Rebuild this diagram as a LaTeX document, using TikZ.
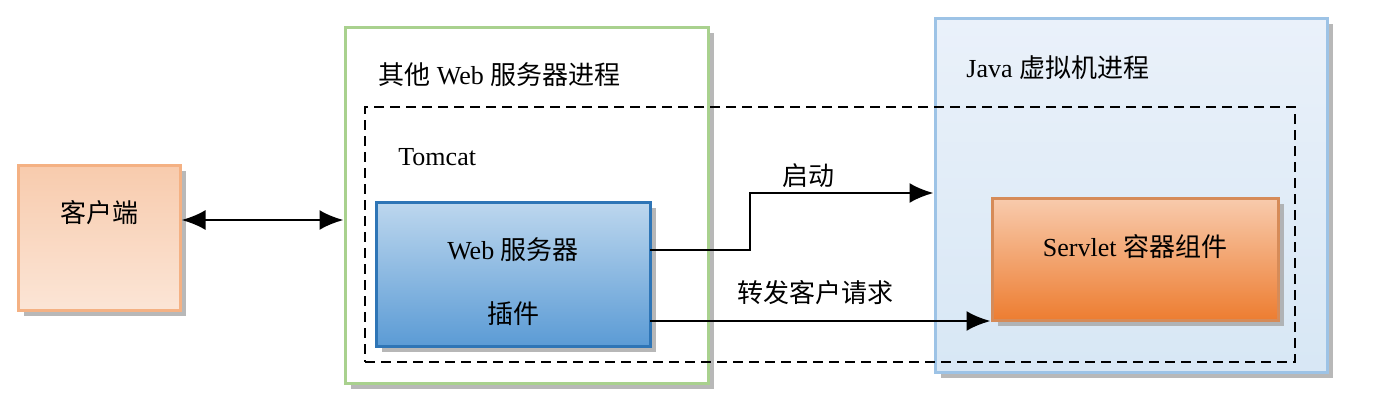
\documentclass[tikz,border=0pt]{standalone}
\usepackage{fontspec}
\setmainfont{Liberation Serif}
\newfontfamily\cjk{Noto Sans CJK SC}
\usetikzlibrary{arrows.meta,shadows}
\definecolor{peachA}{HTML}{FBE5D6}
\definecolor{peachB}{HTML}{F8CBAD}
\definecolor{peachD}{HTML}{F4B183}
\definecolor{grnD}{HTML}{A9D18E}
\definecolor{bluD}{HTML}{9DC3E6}
\definecolor{bluL}{HTML}{EAF1FA}
\definecolor{bluA}{HTML}{BDD7EE}
\definecolor{bluB}{HTML}{5B9BD5}
\definecolor{bluE}{HTML}{2E75B6}
\definecolor{orA}{HTML}{F8CBAD}
\definecolor{orB}{HTML}{ED7D31}
\definecolor{orE}{HTML}{C55A11}
\tikzset{
  txt/.style={font=\fontsize{13}{15}\selectfont, inner sep=0pt},
  shad/.style={drop shadow={shadow xshift=3pt,shadow yshift=-3pt,fill=black!35,opacity=.8}},
  conn/.style={line width=1.3pt,-{Latex[length=12pt,width=10pt]}},
}
\begin{document}
\begin{tikzpicture}[x=0.5pt,y=-0.5pt]
\useasboundingbox (0,0) rectangle (1379,408);
% containers
\node[shad,draw=grnD,line width=1.5pt,fill=white,minimum width=181.5pt,minimum height=178pt,inner sep=0pt] (other) at (526.5,205) {};
\node[shad,draw=bluD,line width=1.5pt,top color=bluL,bottom color=bluA!60,minimum width=196pt,minimum height=177pt,inner sep=0pt] (jvm) at (1131,195) {};
\node[draw,dash pattern=on 5pt off 3pt,line width=1.4pt,minimum width=465pt,minimum height=127.5pt,inner sep=0pt] (tomcat) at (830,234.5) {};
\node[shad,draw=peachD,line width=1.5pt,top color=peachB,bottom color=peachA,minimum width=81pt,minimum height=72.5pt,inner sep=0pt] (client) at (99,237.5) {};
\node[txt] at (99,213) {\cjk 客户端};
\node[txt,anchor=west] (l1) at (378,75) {{\cjk 其他} Web {\cjk 服务器进程}};
\node[txt,anchor=west] (l2) at (966,68) {Java {\cjk 虚拟机进程}};
\node[txt,anchor=west] (l3) at (398,157) {Tomcat};
% plugin
\node[shad,draw=bluE,line width=1.5pt,top color=bluA,bottom color=bluB,minimum width=137pt,minimum height=72pt,inner sep=0pt] (plug) at (513,274) {};
\node[txt] at (513,250) {Web {\cjk 服务器}};
\node[txt] at (513,314) {\cjk 插件};
% servlet
\node[shad,draw=orE!70,line width=1.5pt,top color=orA,bottom color=orB,minimum width=143pt,minimum height=61pt,inner sep=0pt] (srv) at (1135,259) {};
\node[txt] at (1135,247) {Servlet {\cjk 容器组件}};
% connectors
\coordinate (p1) at (650,250);
\coordinate (p2) at (650,321);
\draw[line width=1.3pt,{Latex[length=12pt,width=10pt]}-{Latex[length=12pt,width=10pt]}] (client.east|-0,220) -- (other.west|-0,220);
\draw[conn] (p1) -- (750,250) -- (750,193) -- (jvm.west|-0,193);
\draw[conn] (p2) -- (srv.west|-0,321);
\node[txt] at (808,176) {\cjk 启动};
\node[txt] at (815,293) {\cjk 转发客户请求};
\end{tikzpicture}
\end{document}
